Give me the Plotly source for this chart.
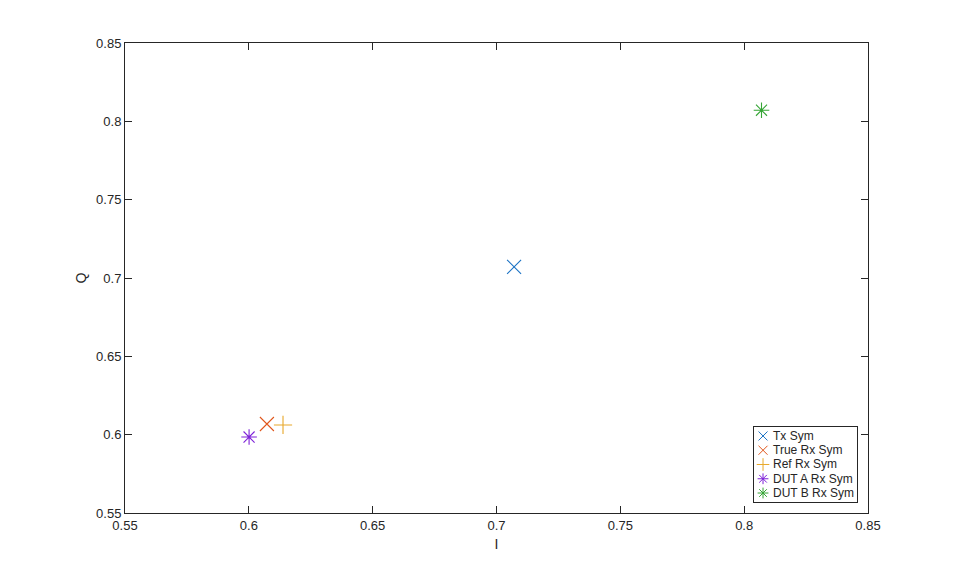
import plotly.graph_objects as go

# symbol points (I, Q)
names = ["Tx Sym", "True Rx Sym", "Ref Rx Sym", "DUT A Rx Sym", "DUT B Rx Sym"]
i_vals = [0.7071, 0.6073, 0.6138, 0.6001, 0.8070]
q_vals = [0.7071, 0.6068, 0.6062, 0.5985, 0.8071]
colors = ["#1a72c4", "#e0561b", "#e8a82a", "#7e22d8", "#35a535"]
symbols = ["x-thin", "x-thin", "cross-thin", "asterisk", "asterisk"]
sizes = [14, 14, 13, 13, 13]

x_ticks = [0.55, 0.6, 0.65, 0.7, 0.75, 0.8, 0.85]
y_ticks = [0.55, 0.6, 0.65, 0.7, 0.75, 0.8, 0.85]

FONT = "Liberation Sans, Arial"
AX = "#262626"

fig = go.Figure()
for n, xi, yq, c, s, sz in zip(names, i_vals, q_vals, colors, symbols, sizes):
    fig.add_trace(go.Scatter(
        x=[xi], y=[yq], mode="markers", name=n, showlegend=False,
        marker=dict(symbol=s, size=sz, color=c, line=dict(color=c, width=1.1)),
    ))

# legend drawn as a small inset axes (MATLAB-style compact box)
idx = list(range(len(names)))
for k, n, c, s in zip(idx, names, colors, symbols):
    fig.add_trace(go.Scatter(
        x=[9], y=[k], xaxis="x2", yaxis="y2", mode="markers", showlegend=False,
        hoverinfo="skip",
        marker=dict(symbol=s, size=9, color=c, line=dict(color=c, width=1)),
    ))
    fig.add_annotation(x=17, y=k, xref="x2", yref="y2", text=n, showarrow=False,
                       xanchor="left", yanchor="middle",
                       font=dict(family=FONT, size=12, color=AX))

axis_style = dict(
    showline=True, linecolor=AX, linewidth=1, mirror="ticks",
    ticks="inside", ticklen=7, tickcolor=AX, showgrid=False, zeroline=False,
    tickfont=dict(family=FONT, size=13, color=AX),
)

fig.update_layout(
    xaxis=dict(range=[0.55, 0.85], tickvals=x_ticks,
               ticktext=[f"{v:g}" for v in x_ticks],
               title=dict(text="I", font=dict(family=FONT, size=14, color=AX), standoff=7),
               **axis_style),
    yaxis=dict(range=[0.55, 0.85], tickvals=y_ticks,
               ticktext=[f"{v:g}" for v in y_ticks],
               title=dict(text="Q", font=dict(family=FONT, size=14, color=AX), standoff=6),
               **axis_style),
    xaxis2=dict(domain=[0.8466, 0.9852], anchor="y2", range=[0, 103],
                showline=True, mirror=True, linecolor=AX, linewidth=1,
                showticklabels=False, ticks="", showgrid=False, zeroline=False),
    yaxis2=dict(domain=[0.0234, 0.183], anchor="x2", range=[4.63, -0.63],
                showline=True, mirror=True, linecolor=AX, linewidth=1,
                showticklabels=False, ticks="", showgrid=False, zeroline=False),
    width=943, height=561,
    margin=dict(l=117, r=83, t=35, b=56),
    plot_bgcolor="white", paper_bgcolor="white",
    showlegend=False,
)

fig.write_html("out.html")
